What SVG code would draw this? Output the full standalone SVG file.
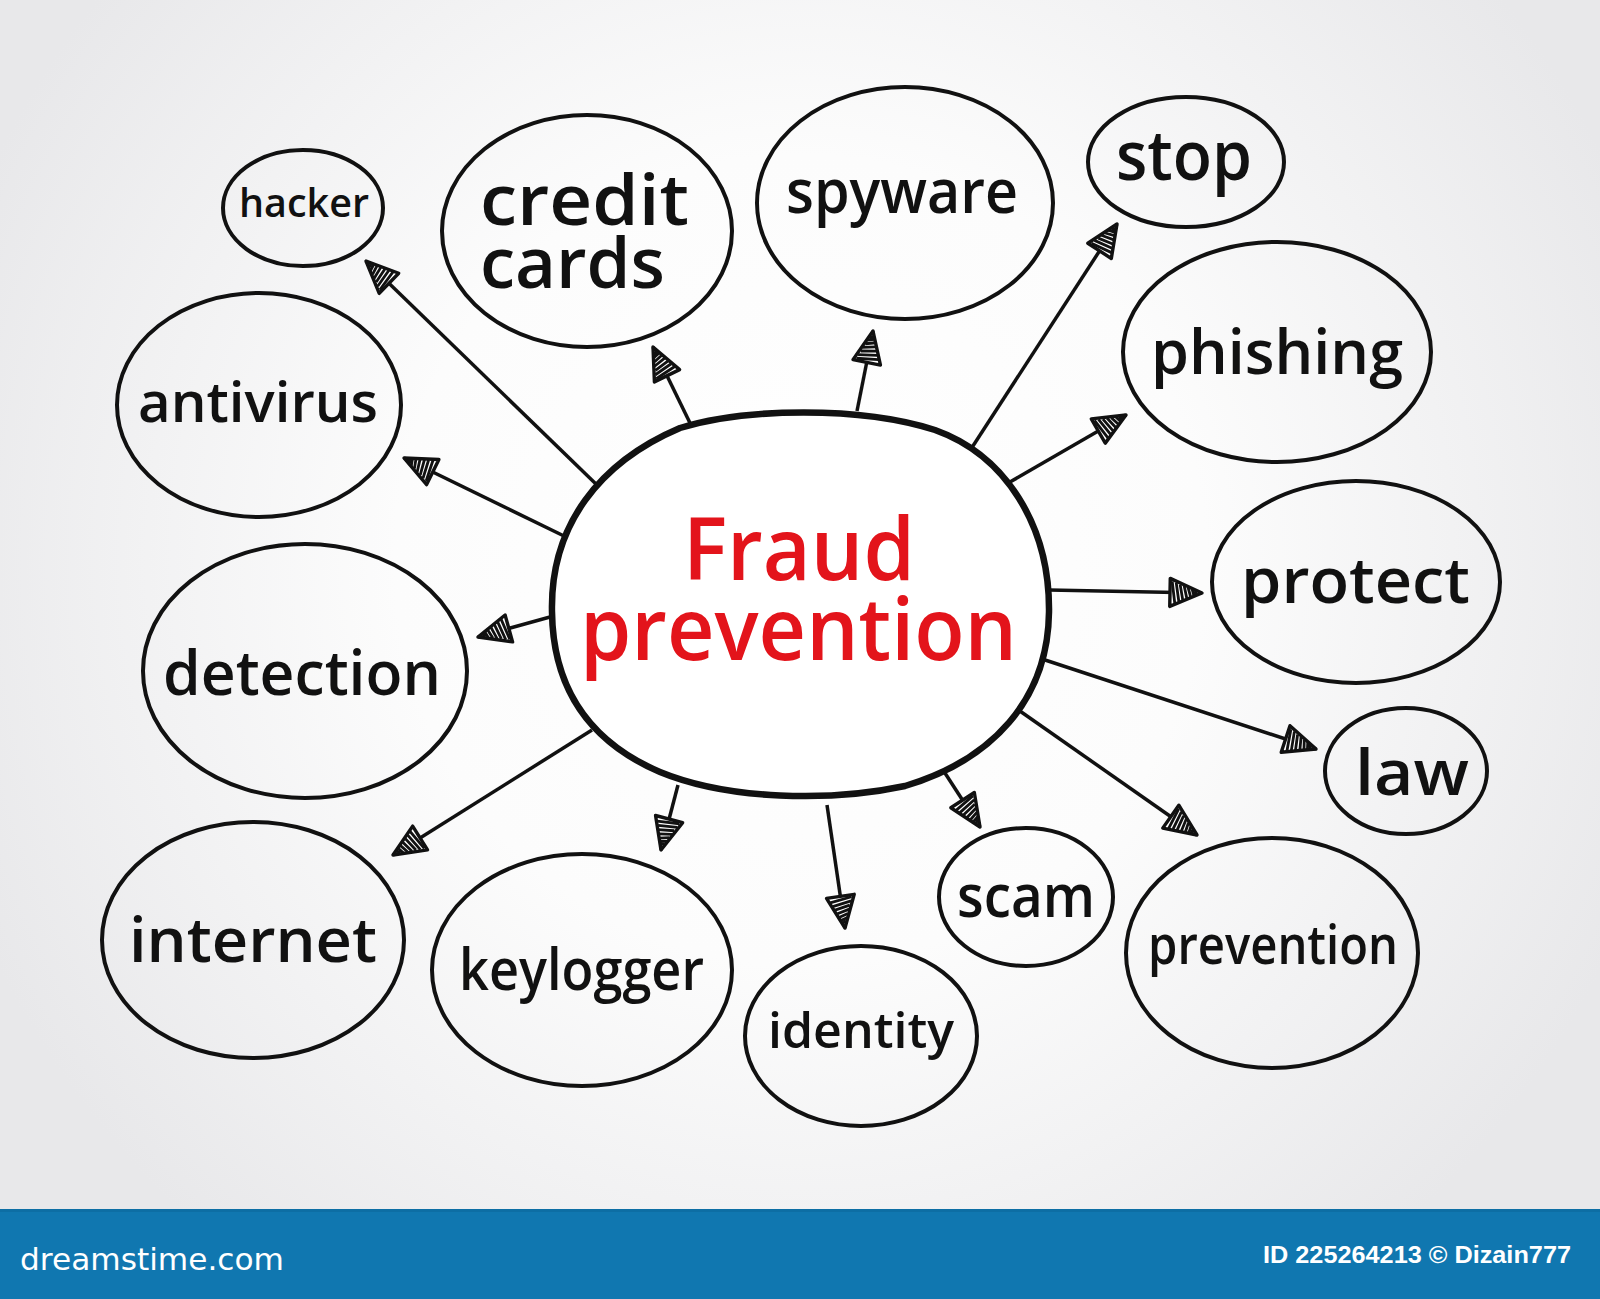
<svg xmlns="http://www.w3.org/2000/svg" width="1600" height="1299" viewBox="0 0 1600 1299">
<defs>
<radialGradient id="bg" cx="800" cy="560" r="900" gradientUnits="userSpaceOnUse">
<stop offset="0" stop-color="#ffffff"/>
<stop offset="0.45" stop-color="#fcfcfc"/>
<stop offset="1" stop-color="#e8e8ea"/>
</radialGradient>
<marker id="ah" markerUnits="userSpaceOnUse" markerWidth="44" markerHeight="40" viewBox="-4 -20 44 40" refX="32" refY="0" orient="auto" overflow="visible">
<path d="M0,-14 L32,0 L0,14 Z" fill="#fff" stroke="#111" stroke-width="3.4" stroke-linejoin="round"/>
<path d="M2,-11 L5,11 M6,-10 L9,9 M10,-8 L13,8 M14,-7 L17,6 M18,-5 L21,5 M22,-4 L24,3 M25,-2 L27,2" stroke="#111" stroke-width="2.8" fill="none"/>
</marker>
<style>
.node{fill:none;stroke:#111;stroke-width:4}
.lbl{font-family:"Open Sans",Lato,"DejaVu Sans",sans-serif;font-weight:600;fill:#111}
.con line{stroke:#111;stroke-width:3.5;marker-end:url(#ah)}
.hub{fill:#fff;stroke:#111;stroke-width:6.5}
.hubt{font-family:"Open Sans",Lato,"DejaVu Sans",sans-serif;font-weight:600;fill:#e3141b}
</style>
</defs>
<rect x="0" y="0" width="1600" height="1299" fill="url(#bg)"/>

<g id="connectors" class="con">
<line x1="597" y1="485" x2="366" y2="261"/>
<line x1="564" y1="536" x2="404" y2="458"/>
<line x1="690" y1="423" x2="653" y2="347"/>
<line x1="857" y1="411" x2="873" y2="331"/>
<line x1="971" y1="449" x2="1117" y2="224"/>
<line x1="1010" y1="482" x2="1126" y2="415"/>
<line x1="1049" y1="590" x2="1202" y2="593"/>
<line x1="1039" y1="658" x2="1316" y2="749"/>
<line x1="1017" y1="709" x2="1197" y2="835"/>
<line x1="943" y1="770" x2="980" y2="827"/>
<line x1="827" y1="805" x2="845" y2="928"/>
<line x1="678" y1="785" x2="661" y2="850"/>
<line x1="592" y1="730" x2="393" y2="855"/>
<line x1="550" y1="617" x2="478" y2="637"/>
</g>

<g id="center">
<path class="hub" d="M552,612 C550,525 600,462 680,428 C745,408 860,406 935,430 C1005,455 1050,525 1049,612 C1048,700 992,760 905,786 C830,802 728,800 660,772 C590,742 553,690 552,612 Z"/>
<text class="hubt" font-size="87"><tspan x="683" y="580" textLength="232" lengthAdjust="spacingAndGlyphs">Fraud</tspan><tspan x="580" y="660" textLength="437" lengthAdjust="spacingAndGlyphs">prevention</tspan></text>
</g>

<g id="node-hacker">
<ellipse class="node" cx="303" cy="208" rx="80" ry="58"/>
<text class="lbl" x="239" y="217" font-size="40" textLength="130" lengthAdjust="spacingAndGlyphs">hacker</text>
</g>
<g id="node-credit-cards">
<ellipse class="node" cx="587" cy="231" rx="145" ry="116"/>
<text class="lbl" font-size="70"><tspan x="480" y="225" textLength="209" lengthAdjust="spacingAndGlyphs">credit</tspan><tspan x="480" y="288" textLength="185" lengthAdjust="spacingAndGlyphs">cards</tspan></text>
</g>
<g id="node-spyware">
<ellipse class="node" cx="905" cy="203" rx="148" ry="116"/>
<text class="lbl" x="786" y="213" font-size="62" textLength="232" lengthAdjust="spacingAndGlyphs">spyware</text>
</g>
<g id="node-stop">
<ellipse class="node" cx="1186" cy="162" rx="98" ry="65"/>
<text class="lbl" x="1116" y="180" font-size="68" textLength="136" lengthAdjust="spacingAndGlyphs">stop</text>
</g>
<g id="node-phishing">
<ellipse class="node" cx="1277" cy="352" rx="154" ry="110"/>
<text class="lbl" x="1151" y="374" font-size="62" textLength="252" lengthAdjust="spacingAndGlyphs">phishing</text>
</g>
<g id="node-antivirus">
<ellipse class="node" cx="259" cy="405" rx="142" ry="112"/>
<text class="lbl" x="138" y="422" font-size="56" textLength="240" lengthAdjust="spacingAndGlyphs">antivirus</text>
</g>
<g id="node-detection">
<ellipse class="node" cx="305" cy="671" rx="162" ry="127"/>
<text class="lbl" x="163" y="695" font-size="62" textLength="278" lengthAdjust="spacingAndGlyphs">detection</text>
</g>
<g id="node-protect">
<ellipse class="node" cx="1356" cy="582" rx="144" ry="101"/>
<text class="lbl" x="1241" y="603" font-size="64" textLength="229" lengthAdjust="spacingAndGlyphs">protect</text>
</g>
<g id="node-law">
<ellipse class="node" cx="1406" cy="771" rx="81" ry="63"/>
<text class="lbl" x="1355" y="795" font-size="64" textLength="114" lengthAdjust="spacingAndGlyphs">law</text>
</g>
<g id="node-internet">
<ellipse class="node" cx="253" cy="940" rx="151" ry="118"/>
<text class="lbl" x="129" y="962" font-size="62" textLength="248" lengthAdjust="spacingAndGlyphs">internet</text>
</g>
<g id="node-keylogger">
<ellipse class="node" cx="582" cy="970" rx="150" ry="116"/>
<text class="lbl" x="459" y="990" font-size="58" textLength="245" lengthAdjust="spacingAndGlyphs">keylogger</text>
</g>
<g id="node-identity">
<ellipse class="node" cx="861" cy="1036" rx="116" ry="90"/>
<text class="lbl" x="768" y="1048" font-size="48" textLength="186" lengthAdjust="spacingAndGlyphs">identity</text>
</g>
<g id="node-scam">
<ellipse class="node" cx="1026" cy="897" rx="87" ry="69"/>
<text class="lbl" x="957" y="917" font-size="60" textLength="138" lengthAdjust="spacingAndGlyphs">scam</text>
</g>
<g id="node-prevention">
<ellipse class="node" cx="1272" cy="953" rx="146" ry="115"/>
<text class="lbl" x="1148" y="964" font-size="54" textLength="250" lengthAdjust="spacingAndGlyphs">prevention</text>
</g>

<g id="banner">
<rect x="0" y="1209" width="1600" height="90" fill="#1077b0"/>
<rect x="0" y="1209" width="1600" height="3" fill="#0d6ea4"/>
<text x="20" y="1270" font-family="'DejaVu Sans',sans-serif" font-size="30" fill="#fff" textLength="264" lengthAdjust="spacingAndGlyphs">dreamstime.com</text>
<text x="1263" y="1263" font-family="'Liberation Sans',Arial,sans-serif" font-weight="700" font-size="23" fill="#fff" textLength="308" lengthAdjust="spacingAndGlyphs">ID 225264213 © Dizain777</text>
</g>
</svg>
